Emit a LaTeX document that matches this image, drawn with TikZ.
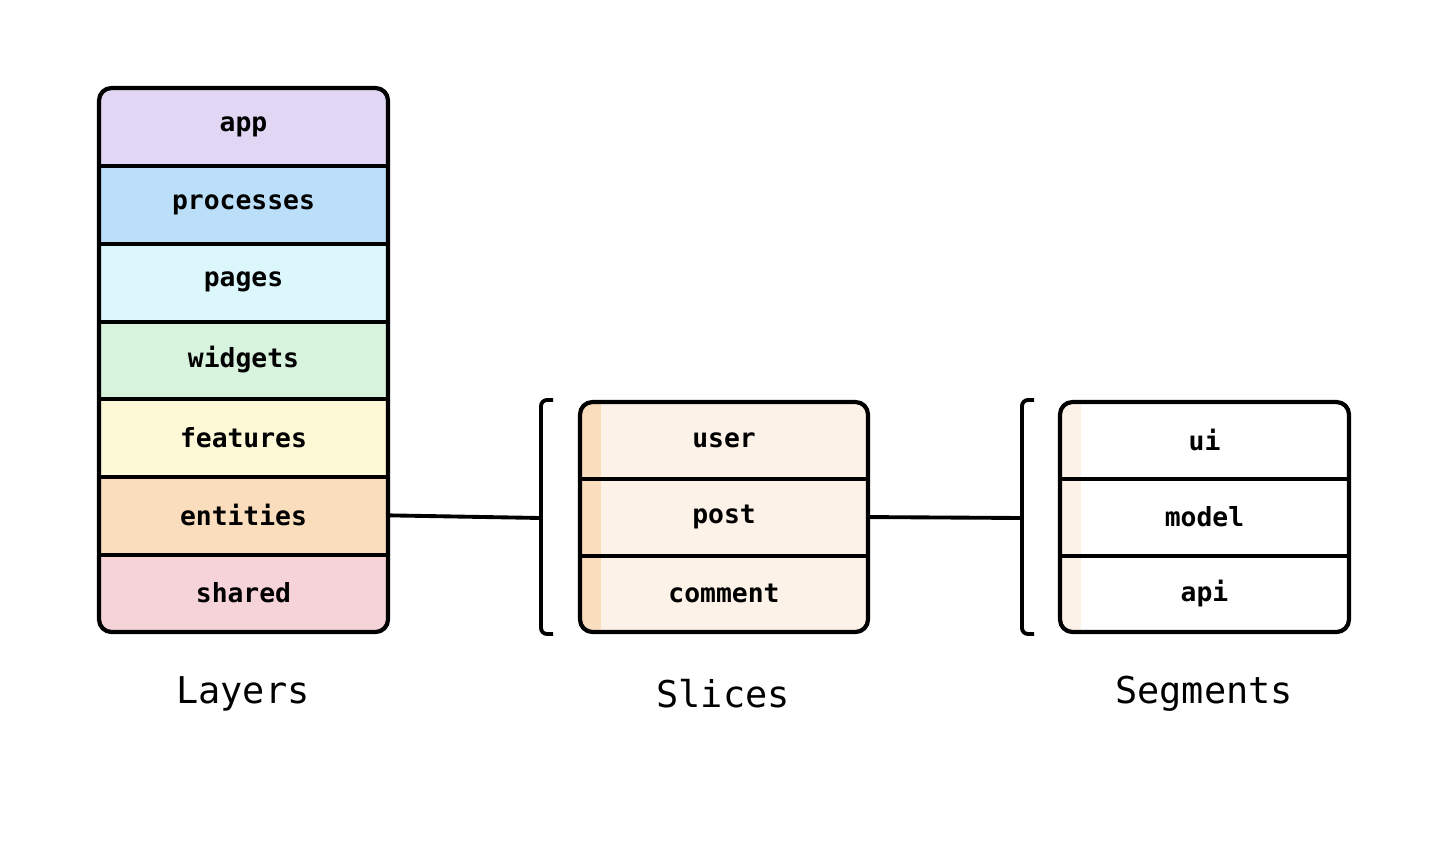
\documentclass[tikz,border=0pt]{standalone}
\usepackage{fontspec}
\setmonofont{DejaVu Sans Mono}
\usetikzlibrary{positioning}
\definecolor{appc}{HTML}{E2D6F5}
\definecolor{procc}{HTML}{BBDFF8}
\definecolor{pagec}{HTML}{DCF7FC}
\definecolor{widgc}{HTML}{D7F2DD}
\definecolor{featc}{HTML}{FDF8D6}
\definecolor{entc}{HTML}{FADDBC}
\definecolor{sharc}{HTML}{F6D3D9}
\definecolor{slicec}{HTML}{FDF2E8}
\begin{document}
\begin{tikzpicture}[x=0.02cm,y=-0.02cm]
    \tikzstyle{row}=[rectangle,minimum width=5.78cm,minimum height=1.56cm,inner sep=0pt,font=\ttfamily\bfseries\fontsize{15}{18}\selectfont]
    \tikzstyle{frame}=[line width=2.4pt,rounded corners=0.25cm]
    \tikzstyle{divider}=[line width=2.2pt]
    \tikzstyle{caption}=[font=\ttfamily\fontsize{21}{24}\selectfont]
    \useasboundingbox (0,0) rectangle (1446,852);

    % Layers
    \begin{scope}
        \clip[rounded corners=0.25cm] (99,88) rectangle (388,632);
        \foreach \name/\col [count=\i] in {app/appc,processes/procc,pages/pagec,widgets/widgc,features/featc,entities/entc,shared/sharc}
            \node[row,fill=\col] (L-\i) at (243.5,{88+(\i-0.5)*77.7}) {\name};
    \end{scope}
    \foreach \i in {1,...,6}
        \draw[divider] (L-\i.south west) -- (L-\i.south east);
    \draw[frame] (99,88) rectangle (388,632);

    % Slices
    \begin{scope}
        \clip[rounded corners=0.25cm] (580,402) rectangle (868,632);
        \fill[slicec] (580,402) rectangle (868,632);
        \fill[entc] (580,402) rectangle (601,632);
        \foreach \name [count=\i] in {user,post,comment}
            \node[row,minimum height=1.53cm] (S-\i) at (724,{402+(\i-0.5)*76.7}) {\name};
    \end{scope}
    \foreach \i in {1,2}
        \draw[divider] (S-\i.south west) -- (S-\i.south east);
    \draw[frame] (580,402) rectangle (868,632);

    % Segments
    \begin{scope}
        \clip[rounded corners=0.25cm] (1060,402) rectangle (1349,632);
        \fill[white] (1060,402) rectangle (1349,632);
        \fill[slicec] (1060,402) rectangle (1081,632);
        \foreach \name [count=\i] in {ui,model,api}
            \node[row,minimum height=1.53cm] (G-\i) at (1204.5,{402+(\i-0.5)*76.7}) {\name};
    \end{scope}
    \foreach \i in {1,2}
        \draw[divider] (G-\i.south west) -- (G-\i.south east);
    \draw[frame] (1060,402) rectangle (1349,632);

    % Brackets and connectors
    \draw[line width=2.2pt,rounded corners=0.12cm] (553,400) -- (541,400) -- (541,634) -- (553,634);
    \draw[line width=2.2pt,rounded corners=0.12cm] (1034,400) -- (1022,400) -- (1022,634) -- (1034,634);
    \coordinate (b-1) at (541,518);
    \coordinate (b-2) at (1022,518);
    \draw[divider] (L-6.east) -- (b-1);
    \draw[divider] (S-2.east) -- (b-2);

    % Captions
    \node[caption] (cap-L) at (243,694) {Layers};
    \node[caption] (cap-S) at (723,694) {Slices};
    \node[caption] (cap-G) at (1204,694) {Segments};
\end{tikzpicture}
\end{document}
